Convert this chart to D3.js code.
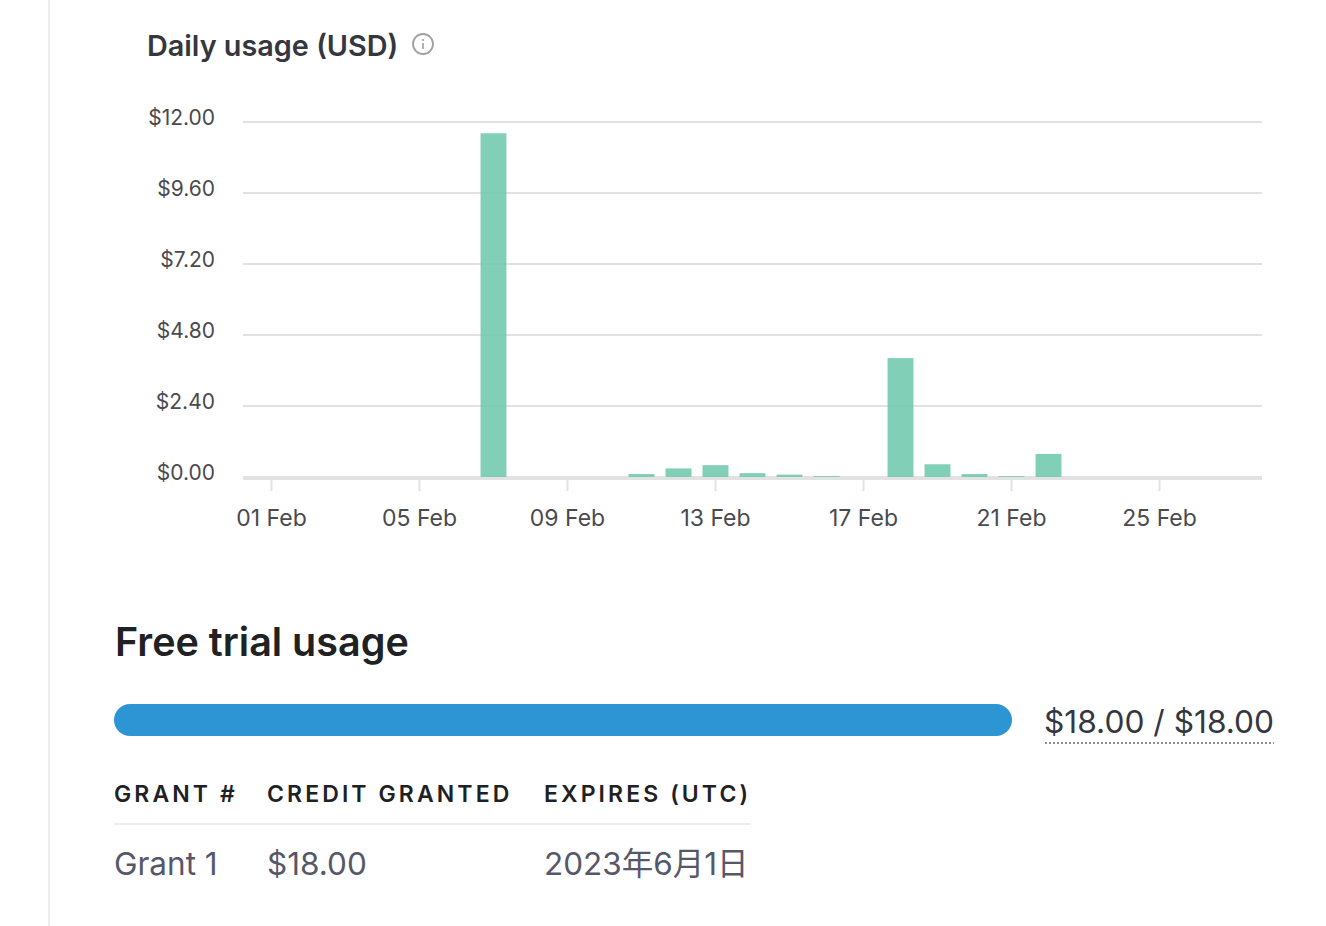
<!DOCTYPE html>
<html><head><meta charset="utf-8">
<script src="https://cdn.jsdelivr.net/npm/d3@7"></script>
<style>html,body{margin:0;padding:0;background:#fff}svg{display:block}text{font-family:Inter,"Noto Sans CJK SC",sans-serif}</style>
</head><body><svg id="c" width="1326" height="926"></svg>
<script>
const days = d3.range(1,28);
const usage = [0,0,0,0,0,0,11.62,0,0,0,0.10,0.29,0.40,0.13,0.08,0.03,0,4.02,0.43,0.10,0.03,0.78,0,0,0,0,0];
const yTicks = [0,2.4,4.8,7.2,9.6,12];
const xTickDays = [1,5,9,13,17,21,25];
const title = "Daily usage (USD)";
const heading = "Free trial usage";
const used = 18, granted = 18;
const usageLabel = "$18.00 / $18.00";
const tableHeaders = ["GRANT #","CREDIT GRANTED","EXPIRES (UTC)"];
const tableRow = ["Grant 1","$18.00","2023年6月1日"];

const svg = d3.select("#c");
const fmtDay = d => String(d).padStart(2,"0")+" Feb";
const x = d3.scaleBand().domain(days).range([243,1262]).paddingInner(0.3).paddingOuter(0.42);
const y = d3.scaleLinear().domain([0,12]).range([477,122]);

svg.append("line").attr("x1",49).attr("x2",49).attr("y1",0).attr("y2",926).attr("stroke","#ececf1").attr("stroke-width",2);

svg.append("text").attr("x",147).attr("y",56).attr("font-size",28.8).attr("font-weight",600).attr("fill","#353740").text(title);
const info = svg.append("g").attr("transform","translate(423,44)");
info.append("circle").attr("r",10).attr("fill","none").attr("stroke","#a0a0a6").attr("stroke-width",1.8);
info.append("circle").attr("cy",-4).attr("r",1.1).attr("fill","#a0a0a6");
info.append("line").attr("y1",-1).attr("y2",5).attr("stroke","#a0a0a6").attr("stroke-width",1.6);

const yAxis = d3.axisLeft(y).tickValues(yTicks).tickSize(0).tickPadding(0).tickFormat(d=>"$"+d.toFixed(2));
const gy = svg.append("g").attr("transform","translate(215,0)").call(yAxis);
gy.select(".domain").remove();
gy.selectAll("text").attr("font-size",21).attr("fill","#4a4a4f").attr("font-family","Inter").attr("dy",null).attr("y",2);
svg.append("g").selectAll("line").data(yTicks.filter(d=>d>0)).join("line")
 .attr("x1",243).attr("x2",1262).attr("y1",d=>y(d)).attr("y2",d=>y(d)).attr("stroke","#e2e2e2").attr("stroke-width",2);

const xAxis = d3.axisBottom(x).tickValues(xTickDays).tickSize(0).tickPadding(0).tickFormat(fmtDay);
const gx = svg.append("g").attr("transform","translate(0,478)").call(xAxis);
gx.select(".domain").remove();
gx.selectAll("text").attr("font-size",23).attr("fill","#4a4a4f").attr("font-family","Inter").attr("y",41).attr("dy",".32em");
gx.selectAll(".tick line").attr("y1",1).attr("y2",13).attr("stroke","#e2e2e2").attr("stroke-width",2);
svg.append("line").attr("x1",243).attr("x2",1262).attr("y1",478).attr("y2",478).attr("stroke","#e2e2e2").attr("stroke-width",4);

svg.append("g").selectAll("rect").data(days.map((d,i)=>({d,v:usage[i]})).filter(o=>o.v>0)).join("rect")
 .attr("x",o=>x(o.d)).attr("width",x.bandwidth()).attr("y",o=>y(o.v)).attr("height",o=>y(0)-y(o.v))
 .attr("fill","#6fc8ad").attr("fill-opacity",0.88);

svg.append("text").attr("x",115).attr("y",656).attr("font-size",39.5).attr("font-weight",600).attr("fill","#202123").text(heading);

const bar = d3.scaleLinear().domain([0,granted]).range([114,1012]);
svg.append("rect").attr("x",bar(0)).attr("y",704).attr("width",bar(used)-bar(0)).attr("height",32).attr("rx",16).attr("fill","#2d95d3");
svg.append("text").attr("x",1044).attr("y",733).attr("font-size",31.7).attr("fill","#353740").text(usageLabel);
svg.append("line").attr("x1",1045).attr("x2",1274).attr("y1",743).attr("y2",743).attr("stroke","#8e8ea0").attr("stroke-width",2).attr("stroke-dasharray","2 2");

const colX = [114,267,544];
svg.append("g").selectAll("text").data(tableHeaders).join("text")
 .attr("x",(d,i)=>colX[i]).attr("y",802).attr("font-size",23).attr("font-weight",600).attr("letter-spacing",3.1).attr("fill","#202123").text(d=>d);
svg.append("line").attr("x1",114).attr("x2",751).attr("y1",824).attr("y2",824).attr("stroke","#ececf1").attr("stroke-width",2);
svg.append("g").selectAll("text").data(tableRow).join("text")
 .attr("x",(d,i)=>colX[i]).attr("y",875).attr("font-size",31.5).attr("fill","#565869").text(d=>d);
</script></body></html>
